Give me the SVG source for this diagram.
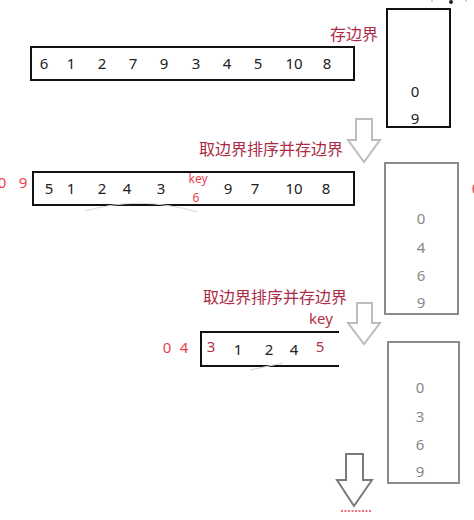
<svg xmlns="http://www.w3.org/2000/svg" width="474" height="520" viewBox="0 0 474 520">
<style>
.n{font-family:"Noto Sans","Open Sans",sans-serif;font-size:15px;fill:#222;text-anchor:middle}
.g{font-family:"Noto Sans","Open Sans",sans-serif;font-size:15px;fill:#888;text-anchor:middle}
.r{font-family:"Noto Sans","Open Sans",sans-serif;font-size:15px;fill:#e8414f;text-anchor:middle}
.dr{font-family:"Noto Sans","Open Sans",sans-serif;font-size:15px;fill:#b03048;text-anchor:middle}
.cn{font-family:"Noto Sans CJK SC",sans-serif;font-size:16px;fill:#ab2a45}
.bk{fill:none;stroke:#111;stroke-width:2}
.gb{fill:none;stroke:#8a8a8a;stroke-width:2}
.ar{fill:#fff;stroke:#bdbdbd;stroke-width:2}
.ar2{fill:#fff;stroke:#7a7a7a;stroke-width:2}
.faint{fill:none;stroke:#d8d8d8;stroke-width:1.2}
</style>
<rect width="474" height="520" fill="#fff"/>
<circle cx="451" cy="2" r="2" fill="#222"/>
<circle cx="432" cy="1" r="0.8" fill="#999"/>
<circle cx="466" cy="1" r="0.8" fill="#999"/>

<g id="array1">
<rect class="bk" x="31" y="47" width="323" height="33"/>
<text class="n" x="44" y="69">6</text>
<text class="n" x="71" y="69">1</text>
<text class="n" x="102" y="69">2</text>
<text class="n" x="133" y="69">7</text>
<text class="n" x="164" y="69">9</text>
<text class="n" x="196" y="69">3</text>
<text class="n" x="227" y="69">4</text>
<text class="n" x="258" y="69">5</text>
<text class="n" x="294" y="69">10</text>
<text class="n" x="327" y="69">8</text>
</g>
<g id="label1"><text class="cn" x="330" y="40">存边界</text></g>
<g id="stack1">
<rect class="bk" x="387" y="9" width="63" height="118"/>
<text class="n" x="415" y="97">0</text>
<text class="n" x="415" y="124">9</text>
</g>

<g id="label2"><text class="cn" x="199" y="155">取边界排序并存边界</text></g>
<g id="array2">
<rect class="bk" x="33" y="172" width="321" height="33"/>
<text class="n" x="49" y="194">5</text>
<text class="n" x="71" y="194">1</text>
<text class="n" x="102" y="194">2</text>
<text class="n" x="127" y="194">4</text>
<text class="n" x="161" y="194">3</text>
<text class="r" x="198" y="183" style="font-size:12px">key</text>
<text class="r" x="196" y="202" style="font-size:12px">6</text>
<text class="n" x="228" y="194">9</text>
<text class="n" x="255" y="194">7</text>
<text class="n" x="294" y="194">10</text>
<text class="n" x="326" y="194">8</text>
<path class="faint" d="M85 211 Q140 195 197 212"/>
</g>
<g id="bounds2">
<text class="r" x="2" y="188">0</text>
<text class="r" x="23" y="188">9</text>
<text class="r" x="476" y="194">0</text>
</g>
<g id="stack2">
<rect class="gb" x="385" y="163" width="73" height="151"/>
<text class="g" x="421" y="224">0</text>
<text class="g" x="421" y="253">4</text>
<text class="g" x="421" y="281">6</text>
<text class="g" x="421" y="308">9</text>
</g>

<g id="label3">
<text class="cn" x="203" y="303">取边界排序并存边界</text>
<text class="dr" x="321" y="324">key</text>
</g>
<g id="array3">
<path class="bk" d="M339 332 H201 V366 H339"/>
<text class="dr" x="211" y="352">3</text>
<text class="n" x="238" y="355">1</text>
<text class="n" x="269" y="355">2</text>
<text class="n" x="294" y="355">4</text>
<text class="dr" x="320" y="352">5</text>
<path class="faint" d="M250 370 L283 363"/>
</g>
<g id="bounds3">
<text class="r" x="167" y="353">0</text>
<text class="r" x="184" y="353">4</text>
</g>
<g id="stack3">
<rect class="gb" x="388" y="342" width="71" height="141"/>
<text class="g" x="420" y="393">0</text>
<text class="g" x="420" y="422">3</text>
<text class="g" x="420" y="450">6</text>
<text class="g" x="420" y="477">9</text>
</g>

<g id="connectors">
<path class="ar" d="M356 119 H372 V140 H380 L364 162 L348 140 H356 Z"/>
<path class="ar" d="M357 303 H372 V323 H380 L364 344 L348 323 H357 Z"/>
<path class="ar2" d="M346 454 H363 V480 H372 L354 506 L337 480 H346 Z"/>
<line x1="341" y1="511" x2="372" y2="511" stroke="#e8414f" stroke-width="1.5" stroke-dasharray="2 1.5"/>
</g>
</svg>
